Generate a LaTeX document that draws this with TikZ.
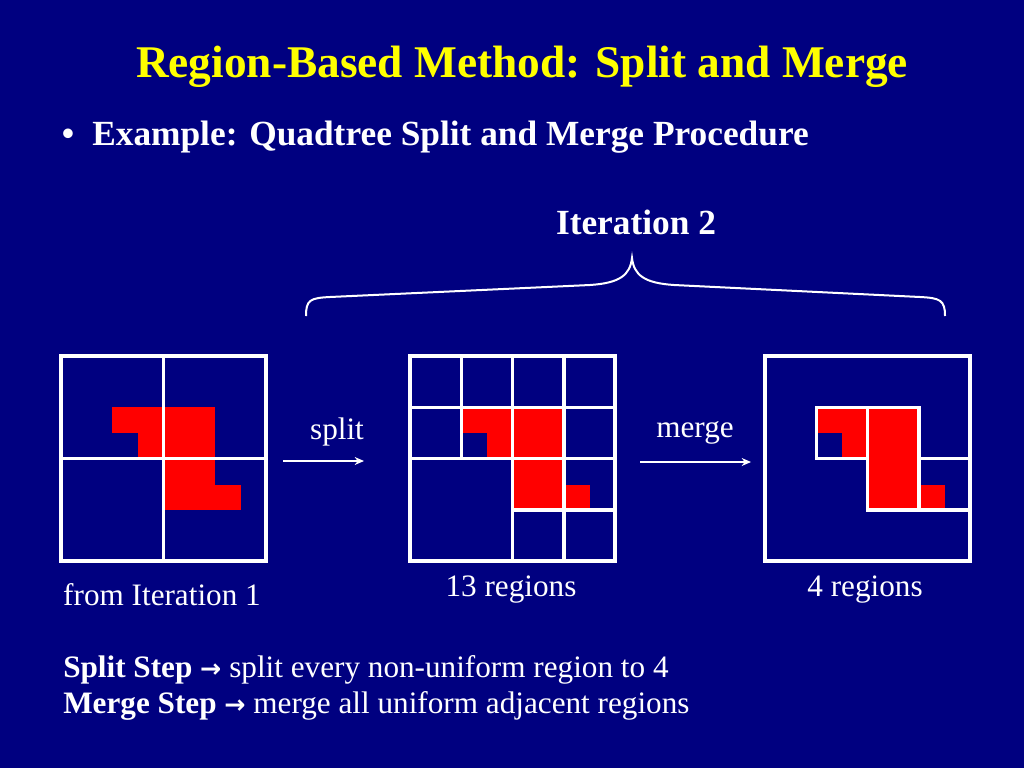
\documentclass[tikz,border=0pt]{standalone}
\usepackage{fontspec}
\setmainfont{Liberation Serif}
\newfontfamily\symfont{DejaVu Sans}
\usetikzlibrary{positioning,arrows.meta}
\definecolor{navy}{HTML}{000080}
\definecolor{titleyellow}{HTML}{FFFF00}
\begin{document}
\begin{tikzpicture}[
      x=0.75pt, y=-0.75pt,
      grid/.style={draw=white, line width=2.6pt},
      caption/.style={text=white, font=\fontsize{23.4}{26}\selectfont, inner sep=0pt},
      heading/.style={text=white, font=\fontsize{26.5}{30}\selectfont\bfseries, inner sep=0pt},
      ]
      \fill[navy] (0,0) rectangle (1024,768);
      \useasboundingbox (0,0) rectangle (1024,768);
      \node[text=titleyellow, font=\fontsize{34}{38}\selectfont\bfseries] (title) at (522,67) {Region-Based Method: Split and Merge};
      \node[heading] (dot) at (68,137) {\textbullet};
      \node[heading, anchor=west] (bullet) at (92,137) {Example: Quadtree Split and Merge Procedure};
      \node[heading] (iter) at (636,222) {Iteration 2};
      % brace
      \coordinate (bl) at (306,316);
      \coordinate (br) at (945,316);
      \coordinate (btip) at (632,258);
      \draw[white, line width=1.5pt] (bl) .. controls (306,300) and (310,298) .. (330,297)
        -- (590,285) .. controls (620,283) and (630,275) .. (btip)
        .. controls (634,275) and (644,283) .. (674,285)
        -- (920,297) .. controls (940,298) and (945,300) .. (br);
      % red cells: three pictures share the same pattern
      \foreach \ox/\oy in {61/356, 410/356, 765/356} {
        \foreach \c/\r in {2/2,3/2,4/2,5/2,3/3,4/3,5/3,4/4,5/4,4/5,5/5,6/5}
          \fill[red] (\ox+\c*25.7,\oy+\r*25.7) rectangle ++(25.7,25.7);
      }
      % grid 1
      \draw[grid] (61,356) rectangle (266,561);
      \draw[grid] (163.5,356) -- (163.5,561) (61,458.5) -- (266,458.5);
      % grid 2
      \draw[grid] (410,356) rectangle (615,561);
      \draw[grid] (461.5,356) -- (461.5,458.5) (512.5,356) -- (512.5,561)
        (564,356) -- (564,561) (410,407.5) -- (615,407.5)
        (410,458.5) -- (615,458.5) (512.5,510) -- (615,510);
      % grid 3
      \draw[grid] (765,356) rectangle (970,561);
      \draw[grid] (816.5,407.5) rectangle (867.5,458.5);
      \draw[grid] (867.5,407.5) rectangle (919,510);
      \draw[grid] (919,458.5) -- (970,458.5) (919,510) -- (970,510);
      % arrows and labels
      \coordinate (s0) at (283,461);
      \coordinate (s1) at (364,461);
      \draw[white, -{Stealth[length=7pt,width=6pt]}, line width=0.8pt] (s0) -- (s1);
      \node[caption] (split) at (337,432) {split};
      \coordinate (m0) at (640,462);
      \coordinate (m1) at (751,462);
      \draw[white, -{Stealth[length=7pt,width=6pt]}, line width=0.8pt] (m0) -- (m1);
      \node[caption] (merge) at (695,433) {merge};
      \node[caption] (c1) at (162,595) {from Iteration 1};
      \node[caption] (c2) at (511,590) {13 regions};
      \node[caption] (c3) at (865,590) {4 regions};
      % bottom notes
      \node[caption, anchor=west] (n1) at (63,670) {\textbf{Split Step} {\symfont\bfseries\fontsize{19}{20}\selectfont →} split every non-uniform region to 4};
      \node[caption, anchor=west] (n2) at (63,706) {\textbf{Merge Step} {\symfont\bfseries\fontsize{19}{20}\selectfont →} merge all uniform adjacent regions};
\end{tikzpicture}
\end{document}
